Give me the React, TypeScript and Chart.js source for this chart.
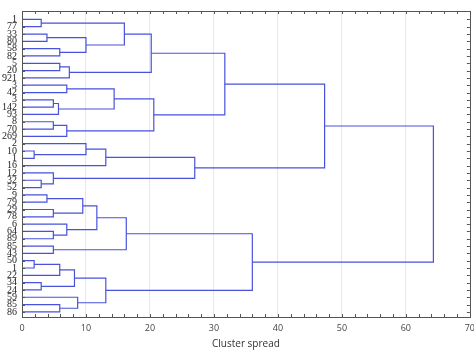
import React, { useEffect, useRef } from "react";
import { Chart, registerables } from "chart.js";

Chart.register(...registerables);

// Leaf labels, top to bottom
const leafLabels = [
  "1", "77", "33", "80", "58", "82", "5", "20", "921", "3", "42", "3", "142", "93",
  "8", "70", "269", "2", "10", "1", "16", "12", "32", "52", "9", "79", "29", "78",
  "6", "64", "89", "85", "43", "50", "1", "22", "34", "24", "59", "85", "86",
];

// Linkage table: ids 0..40 are leaves, id 41+k is the cluster made by row k
const mergeLeft = [
  0, 2, 4, 42, 41, 6, 46, 45, 9, 11, 50, 49, 14, 53, 52, 48, 18, 17, 58, 22,
  21, 59, 56, 24, 26, 64, 29, 28, 66, 31, 69, 33, 72, 36, 73, 39, 38, 75, 71, 63,
];
const mergeRight = [
  1, 3, 5, 43, 44, 7, 8, 47, 10, 12, 13, 51, 15, 16, 54, 55, 19, 57, 20, 23,
  60, 61, 62, 25, 27, 65, 30, 67, 68, 32, 70, 34, 35, 37, 74, 40, 76, 77, 78, 79,
];
const mergeHeight = [
  3.0, 3.9, 5.9, 10.0, 16.0, 5.9, 7.4, 20.2, 7.0, 4.9, 5.7, 14.4, 4.9, 7.0, 20.6, 31.7,
  1.9, 10.0, 13.1, 3.0, 4.9, 27.0, 47.3, 3.9, 4.9, 9.5, 4.9, 7.0, 11.7, 4.9, 16.3,
  1.9, 5.9, 3.0, 8.2, 5.9, 8.7, 13.1, 36.0, 64.3,
];

const xTicks = [0, 10, 20, 30, 40, 50, 60, 70];
const minorTickStep = 2;

const LINK_COLOR = "rgb(72,82,218)";
const FRAME_COLOR = "#555";

function buildDatasets() {
  const n = leafLabels.length;
  const pos: number[] = leafLabels.map((_, i) => i);
  const height: number[] = leafLabels.map(() => 0);
  const datasets: any[] = [];
  mergeHeight.forEach((h, k) => {
    const a = mergeLeft[k];
    const b = mergeRight[k];
    datasets.push({
      data: [
        { x: height[a], y: pos[a] },
        { x: h, y: pos[a] },
        { x: h, y: pos[b] },
        { x: height[b], y: pos[b] },
      ],
      showLine: true,
      borderColor: LINK_COLOR,
      borderWidth: 1.2,
      pointRadius: 0,
      fill: false,
    });
    pos[n + k] = (pos[a] + pos[b]) / 2;
    height[n + k] = h;
  });
  return datasets;
}

const framePlugin = {
  id: "frameTicks",
  afterDatasetsDraw(chart: any) {
    const { ctx, chartArea: a, scales } = chart;
    const xs = scales.x;
    const ys = scales.y;
    ctx.save();
    ctx.strokeStyle = FRAME_COLOR;
    ctx.lineWidth = 1;
    ctx.beginPath();
    for (let v = xTicks[0]; v <= xTicks[xTicks.length - 1]; v += minorTickStep) {
      const px = Math.round(xs.getPixelForValue(v)) + 0.5;
      ctx.moveTo(px, a.bottom);
      ctx.lineTo(px, a.bottom - 3);
      ctx.moveTo(px, a.top);
      ctx.lineTo(px, a.top + 3);
    }
    leafLabels.forEach((_, i) => {
      const py = Math.round(ys.getPixelForValue(i)) + 0.5;
      ctx.moveTo(a.left, py);
      ctx.lineTo(a.left + 3, py);
      ctx.moveTo(a.right, py);
      ctx.lineTo(a.right - 3, py);
    });
    ctx.stroke();
    ctx.strokeRect(
      Math.round(a.left) + 0.5,
      Math.round(a.top) + 0.5,
      Math.round(a.right - a.left),
      Math.round(a.bottom - a.top)
    );
    ctx.restore();
  },
};

export default function App() {
  const ref = useRef<HTMLCanvasElement | null>(null);
  useEffect(() => {
    if (!ref.current) return;
    const chart = new Chart(ref.current, {
      type: "scatter",
      data: { datasets: buildDatasets() },
      options: {
        responsive: false,
        animation: false,
        layout: { padding: { top: 1, right: 0, left: 0, bottom: 0 } },
        plugins: { legend: { display: false }, tooltip: { enabled: false } },
        scales: {
          x: {
            type: "linear",
            min: 0,
            max: 70,
            afterBuildTicks: (s: any) => {
              s.ticks = xTicks.map((v) => ({ value: v }));
            },
            afterFit: (s: any) => {
              s.height = 34;
            },
            grid: {
              drawTicks: false,
              color: (c: any) =>
                c.tick && (c.tick.value === 0 || c.tick.value === 70) ? "rgba(0,0,0,0)" : "#e4e7ee",
            },
            border: { display: false },
            ticks: {
              padding: 6,
              color: "#444",
              font: { family: '"Open Sans", sans-serif', size: 9 },
            },
            title: {
              display: true,
              text: "Cluster spread",
              color: "#333",
              font: { family: '"Open Sans", sans-serif', size: 10 },
              padding: { top: 0, bottom: 1 },
            },
          },
          y: {
            type: "linear",
            reverse: true,
            min: -1.15,
            max: 40.7,
            afterBuildTicks: (s: any) => {
              s.ticks = leafLabels.map((_, i) => ({ value: i }));
            },
            afterFit: (s: any) => {
              s.width = 22;
            },
            grid: { display: false, drawTicks: false },
            border: { display: false },
            ticks: {
              autoSkip: false,
              padding: 5,
              color: "#222",
              font: { family: '"Liberation Serif", serif', size: 10 },
              callback: (v: any) => leafLabels[Math.round(Number(v))],
            },
          },
        },
      },
      plugins: [framePlugin],
    } as any);
    return () => chart.destroy();
  }, []);
  return (
    <div
      style={{
        position: "fixed",
        left: 0,
        top: 0,
        width: 474,
        height: 351,
        overflow: "hidden",
        background: "#fff",
      }}
    >
      <canvas ref={ref} width={481} height={351} style={{ width: 481, height: 351, display: "block" }} />
    </div>
  );
}
